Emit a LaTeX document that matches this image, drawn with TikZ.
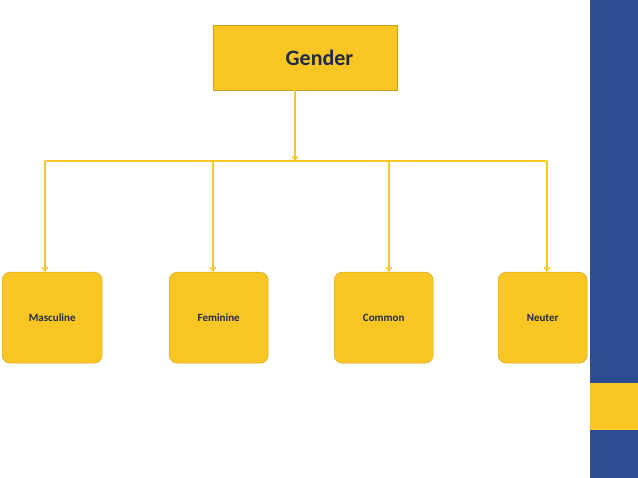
\documentclass[tikz,border=0pt]{standalone}
\usepackage{fontspec}
\usetikzlibrary{arrows.meta}
\setmainfont{Carlito}
\definecolor{gold}{HTML}{FAC623}
\definecolor{navy}{HTML}{1F2A44}
\definecolor{barblue}{HTML}{2E4D95}
\definecolor{edge}{HTML}{C9A21A}
\begin{document}
\begin{tikzpicture}[x=1pt,y=-1pt,
  leaf/.style={draw=edge,fill=gold,rounded corners=8pt,minimum width=100pt,minimum height=91pt,font=\bfseries\fontsize{11}{13}\selectfont,text=navy,anchor=north west,inner sep=0pt},
  conn/.style={draw=gold,line width=1.2pt},
  arr/.style={conn,-{Straight Barb[length=4pt,width=6pt]}}]
\useasboundingbox (0,0) rectangle (638,478);
\fill[white] (0,0) rectangle (638,478);
\fill[barblue] (590,0) rectangle (638,478);
\fill[gold] (590,383) rectangle (638,430);
\node[draw=edge,fill=gold,minimum width=184pt,minimum height=65pt,anchor=north west,inner sep=0pt,font=\bfseries\fontsize{22}{26}\selectfont,text=navy] (g) at (213,25) {\hspace{1.3em}Gender};
\node[leaf] (m) at (2,272) {Masculine};
\node[leaf,minimum width=99pt] (f) at (169,272) {Feminine};
\node[leaf,minimum width=99pt] (c) at (334,272) {Common};
\node[leaf,minimum width=89pt] (n) at (498,272) {Neuter};
\coordinate (j) at (295,161);
\coordinate (l) at (45,161);
\coordinate (r) at (547,161);
\draw[arr] (295,90) -- (j);
\draw[conn] (l) -- (r);
\draw[arr] (l) -- (45,272);
\draw[arr] (213,161) -- (213,272);
\draw[arr] (389,161) -- (389,272);
\draw[arr] (r) -- (547,272);
\end{tikzpicture}
\end{document}
